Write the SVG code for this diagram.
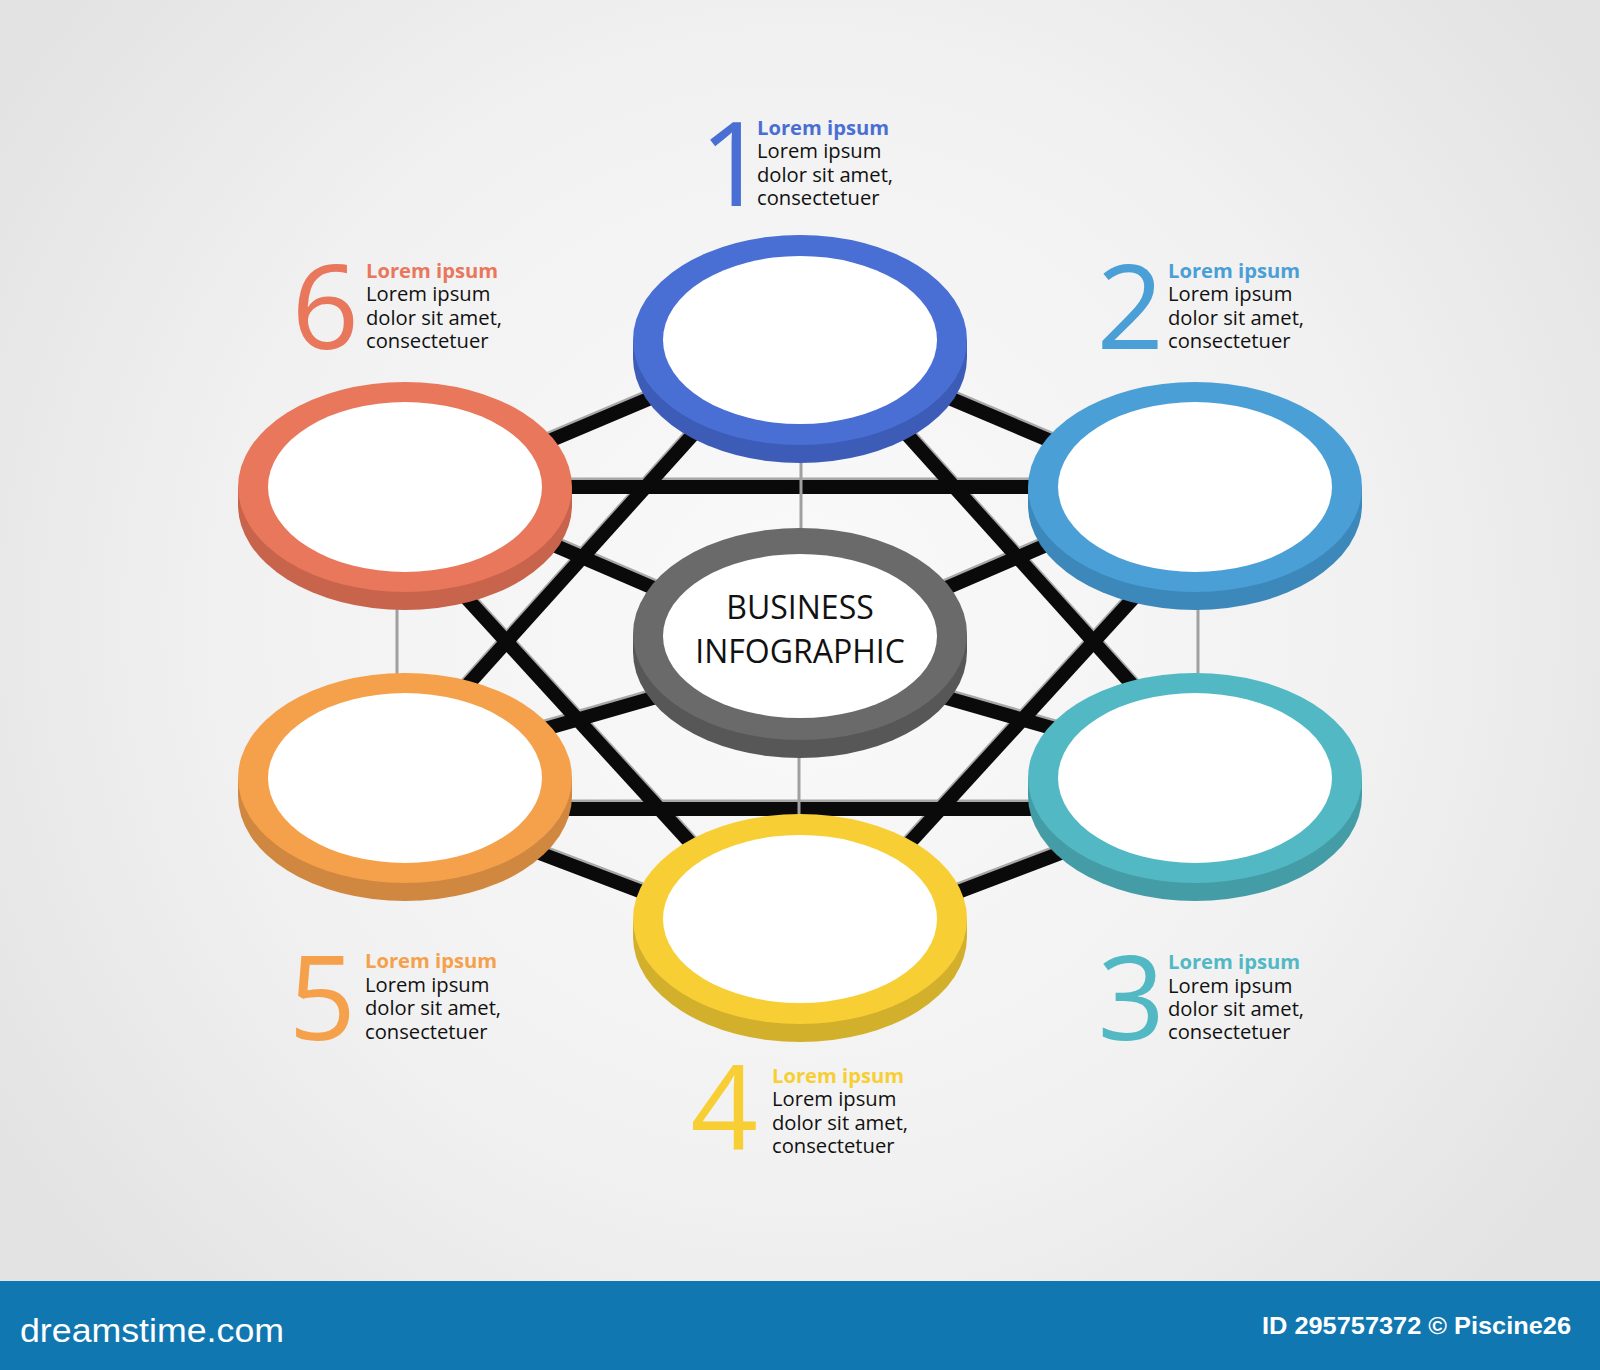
<svg xmlns="http://www.w3.org/2000/svg" width="1600" height="1370" viewBox="0 0 1600 1370">
<defs>
<radialGradient id="bg" cx="800" cy="620" r="950" gradientUnits="userSpaceOnUse">
<stop offset="0" stop-color="#fafafa"/>
<stop offset="0.6" stop-color="#f1f1f1"/>
<stop offset="1" stop-color="#e3e3e3"/>
</radialGradient>
</defs>
<style>
.bar{stroke:#0a0a0a;stroke-width:14;fill:none}
.barhl{stroke:#a8a8a8;stroke-width:14;fill:none}
.thin{stroke:#a0a0a0;stroke-width:3;fill:none}
.inner{fill:#ffffff}
.num{font-family:"Open Sans","Noto Sans",sans-serif;font-size:118px;font-weight:500}
.t{font-family:"Open Sans","Noto Sans",sans-serif;font-size:20.2px;font-weight:700}
.b{font-family:"Open Sans","Noto Sans",sans-serif;font-size:20.2px;font-weight:400;fill:#111111}
.center{font-family:"Open Sans","Noto Sans",sans-serif;font-size:32px;font-weight:400;fill:#111111}
</style>
<rect x="0" y="0" width="1600" height="1370" fill="url(#bg)"/>

<g id="connectors">
<g class="barhl" transform="translate(0,-2.5)">
<line x1="405" y1="502" x2="800" y2="335"/>
<line x1="800" y1="335" x2="1195" y2="502"/>
<line x1="405" y1="487" x2="1195" y2="487"/>
<line x1="778" y1="340" x2="383" y2="779"/>
<line x1="822" y1="340" x2="1217" y2="779"/>
<line x1="365" y1="487" x2="760" y2="919"/>
<line x1="1235" y1="487" x2="840" y2="919"/>
<line x1="405" y1="481" x2="800" y2="651"/>
<line x1="1195" y1="481" x2="800" y2="651"/>
<line x1="405" y1="769" x2="800" y2="656"/>
<line x1="1195" y1="769" x2="800" y2="656"/>
<line x1="405" y1="809" x2="1195" y2="809"/>
<line x1="405" y1="802" x2="800" y2="952"/>
<line x1="1195" y1="802" x2="800" y2="952"/>
</g>
<g class="bar">
<line x1="405" y1="502" x2="800" y2="335"/>
<line x1="800" y1="335" x2="1195" y2="502"/>
<line x1="405" y1="487" x2="1195" y2="487"/>
<line x1="778" y1="340" x2="383" y2="779"/>
<line x1="822" y1="340" x2="1217" y2="779"/>
<line x1="365" y1="487" x2="760" y2="919"/>
<line x1="1235" y1="487" x2="840" y2="919"/>
<line x1="405" y1="481" x2="800" y2="651"/>
<line x1="1195" y1="481" x2="800" y2="651"/>
<line x1="405" y1="769" x2="800" y2="656"/>
<line x1="1195" y1="769" x2="800" y2="656"/>
<line x1="405" y1="809" x2="1195" y2="809"/>
<line x1="405" y1="802" x2="800" y2="952"/>
<line x1="1195" y1="802" x2="800" y2="952"/>
</g>
<g class="thin">
<line x1="801" y1="340" x2="801" y2="634"/>
<line x1="799" y1="634" x2="799" y2="919"/>
<line x1="397" y1="487" x2="397" y2="778"/>
<line x1="1198" y1="487" x2="1198" y2="778"/>
</g>
</g>

<g id="node-1">
<ellipse cx="800" cy="358" rx="167" ry="105" fill="#3c5cb8"/>
<rect x="633" y="340" width="334" height="18" fill="#3c5cb8"/>
<ellipse cx="800" cy="340" rx="167" ry="105" fill="#4a6fd4"/>
<ellipse class="inner" cx="800" cy="340" rx="137" ry="84"/>
</g>
<g id="node-2">
<ellipse cx="1195" cy="505" rx="167" ry="105" fill="#3c88bb"/>
<rect x="1028" y="487" width="334" height="18" fill="#3c88bb"/>
<ellipse cx="1195" cy="487" rx="167" ry="105" fill="#4a9fd6"/>
<ellipse class="inner" cx="1195" cy="487" rx="137" ry="85"/>
</g>
<g id="node-3">
<ellipse cx="1195" cy="796" rx="167" ry="105" fill="#449ca6"/>
<rect x="1028" y="778" width="334" height="18" fill="#449ca6"/>
<ellipse cx="1195" cy="778" rx="167" ry="105" fill="#52b9c4"/>
<ellipse class="inner" cx="1195" cy="778" rx="137" ry="85"/>
</g>
<g id="node-4">
<ellipse cx="800" cy="937" rx="167" ry="105" fill="#d3b02c"/>
<rect x="633" y="919" width="334" height="18" fill="#d3b02c"/>
<ellipse cx="800" cy="919" rx="167" ry="105" fill="#f7cf35"/>
<ellipse class="inner" cx="800" cy="919" rx="137" ry="84"/>
</g>
<g id="node-5">
<ellipse cx="405" cy="796" rx="167" ry="105" fill="#d08740"/>
<rect x="238" y="778" width="334" height="18" fill="#d08740"/>
<ellipse cx="405" cy="778" rx="167" ry="105" fill="#f5a04a"/>
<ellipse class="inner" cx="405" cy="778" rx="137" ry="85"/>
</g>
<g id="node-6">
<ellipse cx="405" cy="505" rx="167" ry="105" fill="#c8634c"/>
<rect x="238" y="487" width="334" height="18" fill="#c8634c"/>
<ellipse cx="405" cy="487" rx="167" ry="105" fill="#e8775c"/>
<ellipse class="inner" cx="405" cy="487" rx="137" ry="85"/>
</g>
<g id="node-center">
<ellipse cx="800" cy="652" rx="167" ry="106" fill="#575757"/>
<rect x="633" y="634" width="334" height="18" fill="#575757"/>
<ellipse cx="800" cy="634" rx="167" ry="106" fill="#6a6a6a"/>
<ellipse class="inner" cx="800" cy="636" rx="137" ry="82"/>
<text class="center" x="800" y="619" text-anchor="middle">BUSINESS</text>
<text class="center" x="800" y="663" text-anchor="middle">INFOGRAPHIC</text>
</g>

<g id="label-1">
<text class="num" x="767" y="206" text-anchor="end" fill="#4a6fd4">1</text>
<text class="t" x="757" y="135" fill="#4a6fd4">Lorem ipsum</text>
<text class="b" x="757" y="158">Lorem ipsum</text>
<text class="b" x="757" y="182">dolor sit amet,</text>
<text class="b" x="757" y="205">consectetuer</text>
</g>
<g id="label-2">
<text class="num" x="1164" y="349" text-anchor="end" fill="#4a9fd6">2</text>
<text class="t" x="1168" y="278" fill="#4a9fd6">Lorem ipsum</text>
<text class="b" x="1168" y="301">Lorem ipsum</text>
<text class="b" x="1168" y="325">dolor sit amet,</text>
<text class="b" x="1168" y="348">consectetuer</text>
</g>
<g id="label-3">
<text class="num" x="1165" y="1040" text-anchor="end" fill="#52b9c4">3</text>
<text class="t" x="1168" y="969" fill="#52b9c4">Lorem ipsum</text>
<text class="b" x="1168" y="993">Lorem ipsum</text>
<text class="b" x="1168" y="1016">dolor sit amet,</text>
<text class="b" x="1168" y="1039">consectetuer</text>
</g>
<g id="label-4">
<text class="num" x="758" y="1149" text-anchor="end" fill="#f7cf35">4</text>
<text class="t" x="772" y="1083" fill="#f7cf35">Lorem ipsum</text>
<text class="b" x="772" y="1106">Lorem ipsum</text>
<text class="b" x="772" y="1130">dolor sit amet,</text>
<text class="b" x="772" y="1153">consectetuer</text>
</g>
<g id="label-5">
<text class="num" x="356" y="1040" text-anchor="end" fill="#f5a04a">5</text>
<text class="t" x="365" y="968" fill="#f5a04a">Lorem ipsum</text>
<text class="b" x="365" y="992">Lorem ipsum</text>
<text class="b" x="365" y="1015">dolor sit amet,</text>
<text class="b" x="365" y="1039">consectetuer</text>
</g>
<g id="label-6">
<text class="num" x="359" y="349" text-anchor="end" fill="#e8775c">6</text>
<text class="t" x="366" y="278" fill="#e8775c">Lorem ipsum</text>
<text class="b" x="366" y="301">Lorem ipsum</text>
<text class="b" x="366" y="325">dolor sit amet,</text>
<text class="b" x="366" y="348">consectetuer</text>
</g>

<g id="footer">
<rect x="0" y="1281" width="1600" height="89" fill="#1077b0"/>
<text x="20" y="1342" font-family="'Liberation Sans',Arial,sans-serif" font-size="34" fill="#ffffff" textLength="264" lengthAdjust="spacingAndGlyphs">dreamstime.com</text>
<text x="1262" y="1334" font-family="'Liberation Sans',Arial,sans-serif" font-size="24" font-weight="700" fill="#ffffff" textLength="309" lengthAdjust="spacingAndGlyphs">ID 295757372 © Piscine26</text>
</g>
</svg>
